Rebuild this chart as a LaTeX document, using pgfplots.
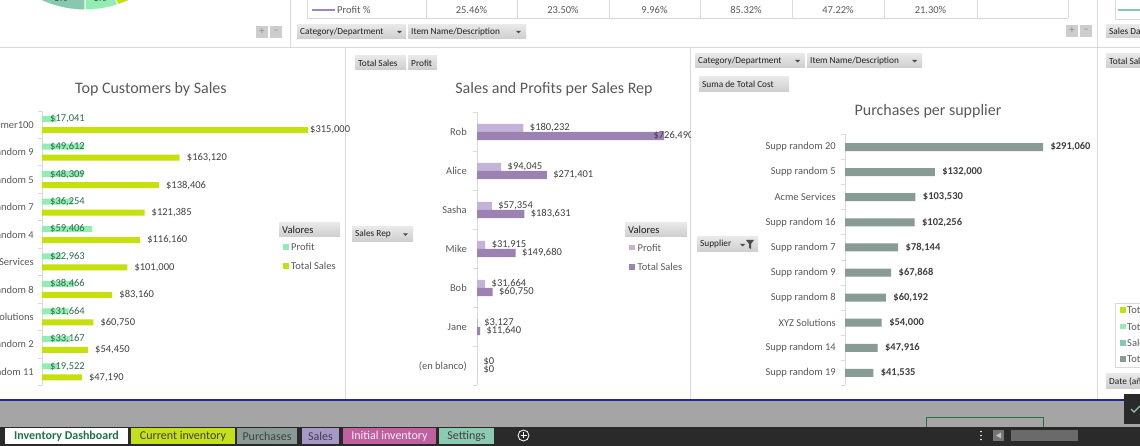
\documentclass[border=0pt]{standalone}
\usepackage{fontspec}
\setmainfont{Carlito}
\usepackage{pgfplots}
\usepackage{pgfplotstable}
\pgfplotsset{compat=1.18}

\definecolor{lime}{HTML}{C5E00C}
\definecolor{mint}{HTML}{93EDB3}
\definecolor{pteal}{HTML}{87C9AE}
\definecolor{plight}{HTML}{C4B3D8}
\definecolor{pdark}{HTML}{9C81B3}
\definecolor{sgray}{HTML}{889B94}
\definecolor{txt}{HTML}{595959}
\definecolor{lbl}{HTML}{404040}
\definecolor{plbl}{HTML}{2E6B50}
\definecolor{axline}{HTML}{D9D9D9}
\definecolor{btntop}{HTML}{E8E8E8}
\definecolor{btnbot}{HTML}{CDCDCD}
\definecolor{btntxt}{HTML}{1F1F1F}
\definecolor{tablime}{HTML}{C4E01A}
\definecolor{tabgray}{HTML}{8A9B95}
\definecolor{tabpurple}{HTML}{A898C8}
\definecolor{tabmag}{HTML}{C0609E}
\definecolor{tabteal}{HTML}{8CCAB4}
\definecolor{xlgreen}{HTML}{217346}
\definecolor{blueline}{HTML}{2323A0}
\definecolor{grayarea}{HTML}{A5A5A5}
\definecolor{tabbar}{HTML}{2A2A2A}
\definecolor{proflinec}{HTML}{A085C0}

\newcommand{\fbtn}{\fontsize{9.3}{11}\selectfont}
\newcommand{\fleg}{\fontsize{10.5}{12}\selectfont}
\newcommand{\ften}{\fontsize{10.5}{12}\selectfont}
\newcommand{\ftab}{\fontsize{12}{14}\selectfont}
\newcommand{\ftitle}{\fontsize{16}{18}\selectfont}

\makeatletter
\newcommand{\forcebbox}{%
  \global\pgf@picminx=0pt \global\pgf@picminy=0pt
  \global\pgf@picmaxx=1140pt \global\pgf@picmaxy=446pt}
\makeatother

\pgfkeys{/pgf/number format/.cd,fixed,precision=0,1000 sep={,},assume math mode=true}

\pgfplotstableread{
y sales profit ls
9 315000 17041 -5
8 163120 49612 0
7 138406 48309 0
6 121385 36254 0
5 116160 59406 0
4 101000 22963 0
3 83160 38466 0
2 60750 31664 0
1 54450 33167 0
0 47190 19522 0
}\custdata

\pgfplotstableread{
y sales profit ls
6 726490 180232 -17
5 271401 94045 0
4 183631 57354 0
3 149680 31915 0
2 60750 31664 0
1 11640 3127 0
0 0 0 0
}\repdata

\pgfplotstableread{
y cost
9 291060
8 132000
7 103530
6 102256
5 78144
4 67868
3 60192
2 54000
1 47916
0 41535
}\suppdata

% pixel coordinates: (px,py) with py measured downward from the top edge
\newcommand{\PX}[2]{(#1,{446-(#2)})}
\newcommand{\btn}[5]{%
  \shade[top color=btntop, bottom color=btnbot] \PX{#1}{#2} rectangle \PX{#3}{#4};
  \node[anchor=west, inner sep=0pt, text=btntxt, font=\fbtn] at (#1+3, {446-(#2+#4)/2}) {#5};
}
\newcommand{\dd}[2]{\fill[btntxt!80] \PX{#1}{#2-1} -- \PX{#1+5}{#2-1} -- \PX{#1+2.5}{#2+1.5} -- cycle;}
\newcommand{\legsq}[3]{\fill[#3] \PX{#1}{#2-2.8} rectangle \PX{#1+5.6}{#2+2.8};}

\pgfplotsset{
  dashboard axis/.style={
    scale only axis, clip=false, anchor=south west,
    axis x line=none, axis y line*=left,
    y axis line style={draw=axline, line width=0.8pt},
    major tick length=0pt, minor tick length=4pt, tick align=outside,
    minor tick style={draw=axline, line width=0.8pt},
    yticklabel style={font=\ften, text=txt},
    every node near coord/.append style={font=\ften, text=lbl},
  }
}

\begin{document}
\begin{tikzpicture}[x=1pt, y=1pt]
\clip (0,0) rectangle (1140,446);
\fill[white] (0,0) rectangle (1140,446);

% ---------- top strip ----------
\begin{scope}
\clip (0,446) rectangle (289,399);
\fill[pteal, draw=white, line width=1pt] (85,542) -- ++(-90:106) arc[start angle=-90, end angle=-165, radius=106] -- cycle;
\fill[mint, draw=white, line width=1pt] (85,542) -- ++(-72:106) arc[start angle=-72, end angle=-90, radius=106] -- cycle;
\fill[lime, draw=white, line width=1pt] (85,542) -- ++(-20:106) arc[start angle=-20, end angle=-72, radius=106] -- cycle;
\node[font=\ften, text=lbl] at \PX{61}{-2} {5\%};
\node[font=\ften, text=lbl] at \PX{100}{-2} {8\%};
\end{scope}
\fill[btnbot] \PX{256}{26} rectangle \PX{268}{38}; \node[font=\ften, text=txt!70] at \PX{262}{32} {+};
\fill[btnbot] \PX{270}{26} rectangle \PX{282}{38}; \node[font=\ften, text=txt!70] at \PX{276}{32} {–};
\draw[axline] \PX{290}{0} -- \PX{290}{47};
\draw[axline] \PX{1097}{0} -- \PX{1097}{47};
% table
\draw[axline] \PX{307}{18} -- \PX{1068}{18};
\foreach \xx in {307,426,517,609,700,792,884,977,1068} {\draw[axline] (\xx,446) -- (\xx,428);}
\draw[proflinec, line width=1.5pt] \PX{312}{10} -- \PX{335}{10};
\node[anchor=west, inner sep=0pt, font=\fleg, text=txt] at \PX{337}{10} {Profit \%};
\foreach \cx/\v in {471.5/25.46\%, 563/23.50\%, 654.5/9.96\%, 746/85.32\%, 838/47.22\%, 930.5/21.30\%} {\node[font=\ften, text=txt] at (\cx,436) {\v};}
\btn{297}{25}{406}{39}{Category/Department}\dd{397}{32}
\btn{408}{25}{526}{39}{Item Name/Description}\dd{516}{32}
\fill[btnbot] \PX{1066}{25} rectangle \PX{1078}{37}; \node[font=\ften, text=txt!70] at \PX{1072}{31} {+};
\fill[btnbot] \PX{1080}{25} rectangle \PX{1092}{37}; \node[font=\ften, text=txt!70] at \PX{1086}{31} {–};
\draw[axline] \PX{1115}{-1} rectangle \PX{1150}{19};
\draw[pteal, line width=1.5pt] \PX{1118}{10} -- \PX{1150}{10};
\btn{1106}{25}{1150}{38}{Sales Date}
\draw[axline] \PX{0}{47} -- \PX{1140}{47};

% ---------- panel separators ----------
\draw[axline] \PX{345}{47} -- \PX{345}{400};
\draw[axline] \PX{690}{47} -- \PX{690}{400};
\draw[axline] \PX{1097}{47} -- \PX{1097}{400};

% ---------- chart 1 ----------
\node[font=\ftitle, text=txt] at \PX{151}{89} {Top Customers by Sales};
\begin{axis}[dashboard axis, at={(42pt,60.5pt)}, width=300pt, height=274.5pt,
  xmin=0, xmax=355263, ymin=-0.5, ymax=9.5,
  ytick={0,...,9},
  yticklabels={Cust random 11, Cust random 2, XYZ Solutions, Cust random 8, Acme Services, Cust random 4, Cust random 7, Cust random 5, Cust random 9, Customer100},
  minor ytick={-0.5,0.5,...,9.5},
  yticklabel style={xshift=-4.7pt}]
\addplot[xbar, bar width=6pt, bar shift=5.5pt, fill=mint, draw=none] table[x=profit,y=y]{\custdata};
\addplot[xbar, bar width=6pt, bar shift=-5.5pt, fill=lime, draw=none, point meta=x,
  visualization depends on={\thisrow{ls} \as \lshift},
  nodes near coords={\$\pgfmathprintnumber{\pgfplotspointmeta}},
  every node near coord/.append style={xshift={(3.7+\lshift)*1pt}, yshift=-5.5pt}] table[x=sales,y=y]{\custdata};
\addplot[draw=none, mark=none, point meta=\thisrow{profit},
  nodes near coords={\$\pgfmathprintnumber{\pgfplotspointmeta}},
  every node near coord/.append style={anchor=west, xshift=4.7pt, yshift=5.5pt, text=plbl}] table[x expr=0,y=y]{\custdata};
\end{axis}
\btn{279}{223}{340}{237}{\ften Valores}
\legsq{283}{247}{mint}\node[anchor=west, inner sep=0pt, font=\fleg, text=txt] at \PX{291}{247} {Profit};
\legsq{283}{266}{lime}\node[anchor=west, inner sep=0pt, font=\fleg, text=txt] at \PX{291}{266} {Total Sales};

% ---------- chart 2 ----------
\btn{355}{56}{406}{70}{Total Sales}
\btn{408}{56}{437}{70}{Profit}
\node[font=\ftitle, text=txt] at \PX{554}{89} {Sales and Profits per Sales Rep};
\btn{352}{227}{413}{242}{Sales Rep}\dd{403}{234.5}
\begin{scope}
\clip \PX{345}{47} rectangle \PX{690}{400};
\begin{axis}[dashboard axis, at={(477pt,60.5pt)}, width=210pt, height=273pt,
  xmin=0, xmax=815844, ymin=-0.5, ymax=6.5,
  ytick={0,...,6}, yticklabels={(en blanco),Jane,Bob,Mike,Sasha,Alice,Rob},
  minor ytick={-0.5,0.5,...,6.5},
  yticklabel style={xshift=-6.7pt}]
\addplot[xbar, bar width=8.2pt, bar shift=4.1pt, fill=plight, draw=none, point meta=x,
  nodes near coords={\$\pgfmathprintnumber{\pgfplotspointmeta}},
  every node near coord/.append style={xshift=3pt, yshift=4.3pt}] table[x=profit,y=y]{\repdata};
\addplot[xbar, bar width=8.2pt, bar shift=-4.1pt, fill=pdark, draw=none, point meta=x,
  visualization depends on={\thisrow{ls} \as \lshift},
  nodes near coords={\$\pgfmathprintnumber{\pgfplotspointmeta}},
  every node near coord/.append style={xshift={(3+\lshift)*1pt}, yshift=-3.9pt}] table[x=sales,y=y]{\repdata};
\end{axis}
\end{scope}
\btn{625}{223}{687}{237}{\ften Valores}
\legsq{629}{247.5}{plight}\node[anchor=west, inner sep=0pt, font=\fleg, text=txt] at \PX{637.5}{247.5} {Profit};
\legsq{629}{267}{pdark}\node[anchor=west, inner sep=0pt, font=\fleg, text=txt] at \PX{637.5}{267} {Total Sales};

% ---------- chart 3 ----------
\btn{695}{54}{805}{68}{Category/Department}\dd{795}{61}
\btn{807}{54}{922}{68}{Item Name/Description}\dd{912}{61}
\btn{699}{77}{789}{92}{Suma de Total Cost}
\node[font=\ftitle, text=txt] at \PX{928}{111} {Purchases per supplier};
\btn{697}{237}{758}{252}{Supplier}\dd{740}{245}
\fill[btntxt!80] \PX{746}{240} -- \PX{754}{240} -- \PX{751}{244} -- \PX{751}{249} -- \PX{749}{248} -- \PX{749}{244} -- cycle;
\begin{axis}[dashboard axis, at={(845pt,60.5pt)}, width=250pt, height=251pt,
  xmin=0, xmax=367500, ymin=-0.5, ymax=9.5,
  ytick={0,...,9},
  yticklabels={Supp random 19, Supp random 14, XYZ Solutions, Supp random 8, Supp random 9, Supp random 7, Supp random 16, Acme Services, Supp random 5, Supp random 20},
  minor ytick={-0.5,0.5,...,9.5},
  yticklabel style={xshift=-5.7pt}]
\addplot[xbar, bar width=8pt, fill=sgray, draw=none, point meta=x,
  nodes near coords={\$\pgfmathprintnumber{\pgfplotspointmeta}},
  every node near coord/.append style={xshift=4pt, font=\ften\bfseries}] table[x=cost,y=y]{\suppdata};
\end{axis}

% ---------- panel 4 (partial) ----------
\btn{1106}{54}{1150}{68}{Total Sales}
\draw[axline] \PX{1115}{303} rectangle \PX{1150}{367};
\legsq{1120}{310}{lime}\node[anchor=west, inner sep=0pt, font=\fleg, text=txt] at \PX{1127}{310} {Total};
\legsq{1120}{326.5}{mint}\node[anchor=west, inner sep=0pt, font=\fleg, text=txt] at \PX{1127}{326.5} {Total};
\legsq{1120}{343}{pteal}\node[anchor=west, inner sep=0pt, font=\fleg, text=txt] at \PX{1127}{343} {Sales};
\legsq{1120}{359}{sgray}\node[anchor=west, inner sep=0pt, font=\fleg, text=txt] at \PX{1127}{359} {Total};
\btn{1106}{374}{1150}{389}{Date (año)}

% ---------- bottom ----------
\fill[grayarea] \PX{0}{401.5} rectangle \PX{1140}{427};
\draw[blueline, line width=2pt] \PX{0}{400.5} -- \PX{1124}{400.5};
\draw[xlgreen, line width=1pt] \PX{926.5}{427} -- \PX{926.5}{417.5} -- \PX{1043}{417.5} -- \PX{1043}{427};
\fill[tabbar] \PX{1124}{394} rectangle \PX{1140}{424};
\draw[pteal, line width=1.2pt] \PX{1131}{409} -- \PX{1134}{412} -- \PX{1140}{406};
\fill[tabbar] \PX{0}{427} rectangle \PX{1140}{446};
\fill[white] \PX{5}{428} rectangle \PX{128}{444};
\node[font=\ftab\bfseries, text=xlgreen] at \PX{66.5}{436} {Inventory Dashboard};
\fill[tablime] \PX{131}{428} rectangle \PX{235}{444};
\node[font=\ftab, text=lbl] at \PX{183}{436} {Current inventory};
\fill[tabgray] \PX{237}{428} rectangle \PX{297}{444};
\node[font=\ftab, text=lbl] at \PX{267}{436} {Purchases};
\fill[tabpurple] \PX{302}{428} rectangle \PX{339}{444};
\node[font=\ftab, text=lbl] at \PX{320.5}{436} {Sales};
\fill[tabmag] \PX{343}{428} rectangle \PX{436}{444};
\node[font=\ftab, text=white!90!tabmag] at \PX{389.5}{436} {Initial inventory};
\fill[tabteal] \PX{439}{428} rectangle \PX{494}{444};
\node[font=\ftab, text=lbl] at \PX{466.5}{436} {Settings};
\draw[white, line width=0.8pt] \PX{523.5}{435.5} circle (5.5);
\draw[white, line width=0.8pt] \PX{520.5}{435.5} -- \PX{526.5}{435.5} \PX{523.5}{432.5} -- \PX{523.5}{438.5};
\foreach \yy in {431.5,435.5,439.5} {\fill[white] (981,446-\yy) circle (0.9);}
\fill[white!35!tabbar] \PX{993}{430} rectangle \PX{1004}{441};
\fill[white!70!tabbar] \PX{996}{435.5} -- \PX{1001}{432.5} -- \PX{1001}{438.5} -- cycle;
\fill[white!30!tabbar] \PX{1011}{430} rectangle \PX{1078}{441};
\forcebbox
\end{tikzpicture}
\end{document}
